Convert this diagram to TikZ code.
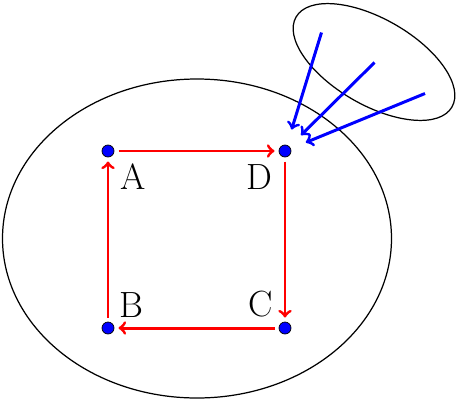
\documentclass[tikz,border=0pt]{standalone}
\usetikzlibrary{positioning}

\begin{document}
\begin{tikzpicture}[
    pt/.style={circle, draw, fill=blue, inner sep=0, minimum size=0.24cm, outer sep=0.09cm},
    lbl/.style={font=\huge, inner sep=0},
    red-arr/.style={->, red, line width=1.7pt},
    blue-arr/.style={->, blue, line width=1.7pt, shorten >=0.24cm}
  ]
  \useasboundingbox (0,0) rectangle (9.12,8.04);

  \draw[line width=0.7pt] (3.94,3.27) ellipse [x radius=3.89cm, y radius=3.19cm];
  \draw[line width=0.7pt, rotate around={-30:(7.48,6.80)}] (7.48,6.80) ellipse [x radius=1.8cm, y radius=0.86cm];

  \node[pt] (A) at (2.16,5.02) {};
  \node[pt] (D) at (5.70,5.02) {};
  \node[pt] (B) at (2.16,1.48) {};
  \node[pt] (C) at (5.70,1.48) {};

  \node[lbl, below right=0.1cm and 0.09cm of A] (lA) {A};
  \node[lbl, below left=0.12cm and 0.09cm of D] (lD) {D};
  \node[lbl, above right=0.05cm and 0.07cm of B] (lB) {B};
  \node[lbl, above left=0.07cm and 0.09cm of C] (lC) {C};

  \draw[red-arr] (A) -- (D);
  \draw[red-arr] (D) -- (C);
  \draw[red-arr] (C) -- (B);
  \draw[red-arr] (B) -- (A);

  \coordinate (s1) at (6.43,7.39);
  \coordinate (s2) at (7.49,6.79);
  \coordinate (s3) at (8.50,6.17);
  \foreach \s in {s1,s2,s3}
    \draw[blue-arr] (\s) -- (D);

\end{tikzpicture}
\end{document}
